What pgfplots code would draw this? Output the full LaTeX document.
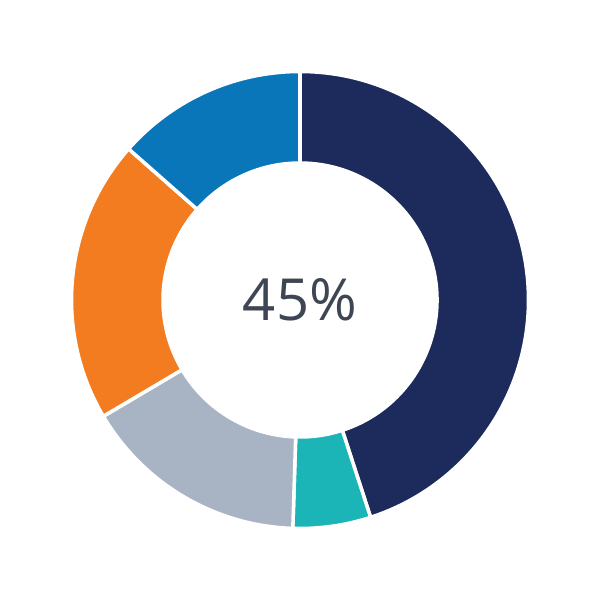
\documentclass[border=0pt]{standalone}
\usepackage{pgfplots}
\usepackage{pgfplotstable}
\pgfplotsset{compat=1.18}
\usepackage{fontspec}
\setmainfont{Open Sans}

\definecolor{cnavy}{HTML}{1C2B5B}
\definecolor{cteal}{HTML}{1BB4B7}
\definecolor{cgray}{HTML}{A8B4C4}
\definecolor{corange}{HTML}{F37C20}
\definecolor{cblue}{HTML}{0976B9}
\definecolor{ctext}{HTML}{3D4652}

% share of each segment, clockwise from 12 o'clock
\pgfplotstableread{
value color
45   cnavy
5.5  cteal
16   cgray
20   corange
13.5 cblue
}\donutdata

\begin{document}
\begin{tikzpicture}
\begin{axis}[
    x=1cm, y=1cm,
    disabledatascaling,
    xmin=-3, xmax=3,
    ymin=-3, ymax=3,
    hide axis,
    clip=false,
]
  \path (axis cs:-3,-3) rectangle (axis cs:3,3);
  \def\ro{2.285}
  \def\ri{1.37}
  \def\cum{0}
  \pgfplotsforeachungrouped \i in {0,...,4}{
    \pgfplotstablegetelem{\i}{value}\of{\donutdata}\let\v\pgfplotsretval
    \pgfplotstablegetelem{\i}{color}\of{\donutdata}\let\c\pgfplotsretval
    \pgfmathsetmacro\a{90-3.6*\cum}
    \pgfmathsetmacro\b{90-3.6*(\cum+\v)}
    \pgfmathsetmacro\xo{\ro*cos(\a)}
    \pgfmathsetmacro\yo{\ro*sin(\a)}
    \pgfmathsetmacro\xi{\ri*cos(\b)}
    \pgfmathsetmacro\yi{\ri*sin(\b)}
    \edef\temp{\noexpand\fill[\c, draw=white, line width=1pt]
      (axis cs:\xo,\yo) arc[start angle=\a, end angle=\b, radius=\ro]
      -- (axis cs:\xi,\yi) arc[start angle=\b, end angle=\a, radius=\ri] -- cycle;}
    \temp
    \pgfmathsetmacro\cum{\cum+\v}
  }
  \node[text=ctext, font=\fontsize{16.5}{20}\selectfont] at (axis cs:0,0) {45\%};
\end{axis}
\end{tikzpicture}
\end{document}
